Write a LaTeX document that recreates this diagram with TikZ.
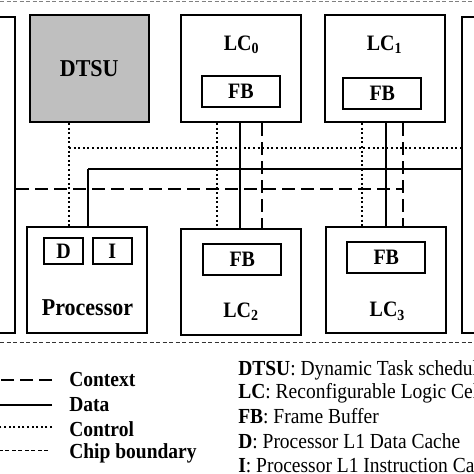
\documentclass[tikz,border=0pt]{standalone}
\usepackage{fontspec}
\setmainfont{Liberation Serif}
\newcommand{\tallt}[1]{\scalebox{1}[1.1]{#1}}

\begin{document}
\begin{tikzpicture}[x=1pt,y=-1pt,line width=2pt,
    blk/.style={draw,line width=2pt,inner sep=0pt,minimum width=120pt,minimum height=106pt},
    fbbox/.style={draw,line width=2pt,inner sep=0pt,minimum width=78pt,minimum height=31pt,font=\bfseries\fontsize{20}{24}\selectfont},
    lbl/.style={inner sep=0pt,font=\bfseries\fontsize{20}{24}\selectfont},
    big/.style={inner sep=0pt,font=\bfseries\fontsize{22}{26}\selectfont},
    lgd/.style={inner sep=0pt,anchor=base west,font=\fontsize{19.5}{23}\selectfont},
    ctx/.style={dash pattern=on 13pt off 6pt},
    ctl/.style={dash pattern=on 2pt off 2.6pt},
    chip/.style={line width=1pt,dash pattern=on 4pt off 2.5pt}]
    \useasboundingbox (0,0) rectangle (474,474);
    \clip (0,0) rectangle (474,474);

    \draw[chip,gray] (0,1)--(474,1);
    \draw[chip,black!80] (0,342.7)--(474,342.7);

      \node[blk,minimum width=50pt,minimum height=316pt] (CPUL) at (-10,175) {};
      \node[blk,minimum width=50pt,minimum height=316pt] (CPUR) at (486.5,175) {};

      \node[blk,big,fill=gray!50,minimum width=119.5pt,minimum height=107pt] (DTSU) at (89.25,68.5) {\tallt{DTSU}};
      \node[blk,minimum height=107pt] (LC0) at (240.85,68.5) {};
      \node[blk,minimum height=107pt] (LC1) at (384.7,68.5) {};
      \node[blk] (Proc) at (87,280.3) {};
      \node[blk] (LC2) at (240.85,282.2) {};
      \node[blk] (LC3) at (386.35,280.3) {};

      \node[fbbox] (FB0) at (241,91.5) {\tallt{FB}};
      \node[fbbox] (FB1) at (382.3,93.5) {\tallt{FB}};
      \node[fbbox] (FB2) at (242.3,259.7) {\tallt{FB}};
      \node[fbbox] (FB3) at (386.3,257.2) {\tallt{FB}};
      \node[fbbox,minimum width=39pt,minimum height=25.7pt] (Dc) at (63.7,251.2) {\tallt{D}};
      \node[fbbox,minimum width=39pt,minimum height=25.7pt] (Ic) at (112.2,251.2) {\tallt{I}};

      \node[lbl,anchor=base] (LC0t) at (241.5,50) {\tallt{LC\textsubscript{0}}};
      \node[lbl,anchor=base] (LC1t) at (384.5,50) {\tallt{LC\textsubscript{1}}};
      \node[lbl,anchor=base] (LC2t) at (241,317) {\tallt{LC\textsubscript{2}}};
      \node[lbl,anchor=base] (LC3t) at (387.3,316.7) {\tallt{LC\textsubscript{3}}};
      \node[big,anchor=base] (Proct) at (87.5,315.7) {\tallt{Processor}};

    \coordinate (ctlbus) at (69,148);
    \coordinate (datbus) at (88,169);
    \coordinate (ctxbus) at (402.5,189);
    \coordinate (c0ctl) at (217,0);
    \coordinate (c0dat) at (239.7,0);
    \coordinate (c0ctx) at (262.3,0);
    \coordinate (c1ctl) at (362.3,0);
    \coordinate (c1dat) at (385.7,0);

      \draw[ctl] (DTSU.south -| ctlbus)--(Proc.north -| ctlbus);
      \draw[ctl] (ctlbus)--(CPUR.west |- ctlbus);
      \draw (datbus)--(CPUR.west |- datbus);
      \draw (datbus)--(Proc.north -| datbus);
      \draw[ctx] (CPUL.east |- ctxbus)--(ctxbus);

      \draw[ctl] (LC0.south -| c0ctl)--(LC2.north -| c0ctl);
      \draw (LC0.south -| c0dat)--(LC2.north -| c0dat);
      \draw[ctx] (LC0.south -| c0ctx)--(LC2.north -| c0ctx);

      \draw[ctl] (LC1.south -| c1ctl)--(LC3.north -| c1ctl);
      \draw (LC1.south -| c1dat)--(LC3.north -| c1dat);
      \draw[ctx] (LC1.south -| ctxbus)--(LC3.north -| ctxbus);

      \node[lgd,font=\bfseries\fontsize{19.5}{23}\selectfont] (lgCtx) at (68.3,386.7) {\tallt{Context}};
      \node[lgd,font=\bfseries\fontsize{19.5}{23}\selectfont] (lgDat) at (68.3,411.7) {\tallt{Data}};
      \node[lgd,font=\bfseries\fontsize{19.5}{23}\selectfont] (lgCtl) at (68.3,436) {\tallt{Control}};
      \node[lgd,font=\bfseries\fontsize{19.5}{23}\selectfont] (lgChip) at (68.3,458.3) {\tallt{Chip boundary}};
      \draw[ctx] ([xshift=-16.3pt,yshift=6.7pt]lgCtx.base west)--++(-60,0);
      \draw ([xshift=-16.3pt,yshift=6.7pt]lgDat.base west)--++(-60,0);
      \draw[ctl] ([xshift=-16.3pt,yshift=9pt]lgCtl.base west)--++(-60,0);
      \draw[chip] ([xshift=-20.3pt,yshift=7.6pt]lgChip.base west)--++(-60,0);

      \node[lgd] (kDTSU) at (237.3,375) {\tallt{\textbf{DTSU}: Dynamic Task scheduling Unit}};
      \node[lgd] (kLC) at (237.3,398.3) {\tallt{\textbf{LC}: Reconfigurable Logic Cell}};
      \node[lgd] (kFB) at (237.3,423.3) {\tallt{\textbf{FB}: Frame Buffer}};
      \node[lgd] (kD) at (237.3,448.3) {\tallt{\textbf{D}: Processor L1 Data Cache}};
      \node[lgd] (kI) at (237.3,472) {\tallt{\textbf{I}: Processor L1 Instruction Cache}};
  \end{tikzpicture}
\end{document}
